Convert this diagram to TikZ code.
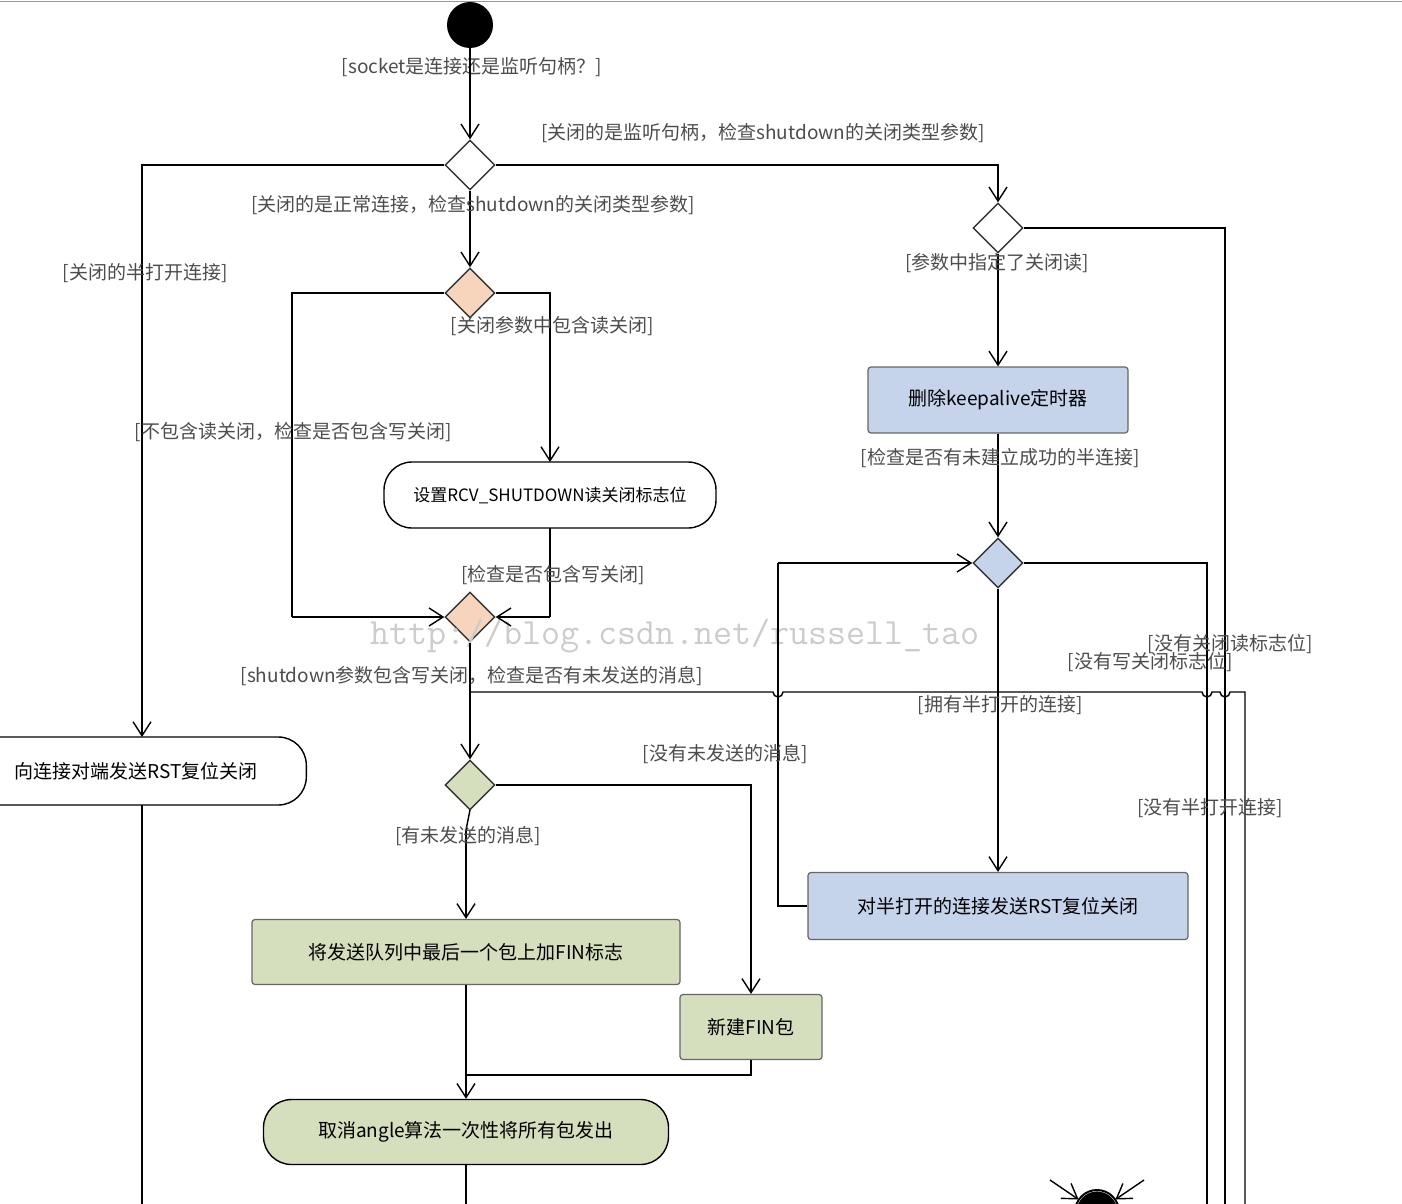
\documentclass[tikz,border=0pt]{standalone}
\usepackage{fontspec}
\setmainfont{Noto Sans CJK SC}
\usetikzlibrary{arrows.meta,shapes.geometric}
\definecolor{dor}{HTML}{F6D5BC}
\definecolor{dgr}{HTML}{D5DFBD}
\definecolor{dbl}{HTML}{C5D3EB}
\begin{document}
\begin{tikzpicture}[x=1pt,y=-1pt,
  every node/.style={font=\fontsize{19}{22}\selectfont},
  lab/.style={text=black!70,inner sep=1pt},
  dia/.style={diamond,draw=black!80,line width=1.4pt,minimum width=50,minimum height=50,inner sep=0},
  act/.style={draw=black!60,rounded corners=3,inner sep=0,line width=1.2pt},
  rnd/.style={draw=black,line width=1.4pt,rounded corners=28,inner sep=0,fill=white},
  ar/.style={-{Straight Barb[length=14pt,width=18pt]},line width=1.4pt},
  ln/.style={line width=1.4pt}]
\useasboundingbox (0,0) rectangle (1402,1204);
\draw[black!40] (0,1) -- (1402,1);
\node[circle,fill=black,minimum size=46,inner sep=0] (st) at (470,25) {};
\node[lab] (l0) at (472,67) {[socket是连接还是监听句柄？]};
\node[dia,fill=white] (d1) at (470,165) {};
\node[dia,fill=dor] (d2) at (470,293) {};
\node[dia,fill=dor] (d3) at (470,617) {};
\node[dia,fill=dgr] (d4) at (470,785) {};
\node[dia,fill=white] (dr) at (998,228) {};
\node[dia,fill=dbl] (d5) at (998,563) {};
\node[rnd,minimum width=332,minimum height=66] (rcv) at (550,495) {\fontsize{17}{20}\selectfont 设置RCV\_SHUTDOWN读关闭标志位};
\node[rnd,minimum width=340,minimum height=68,anchor=east] (rst1) at (307,771) {向连接对端发送RST复位关闭};
\node[act,fill=dgr,minimum width=428,minimum height=65] (fin1) at (466,952) {将发送队列中最后一个包上加FIN标志};
\node[act,fill=dgr,minimum width=142,minimum height=65] (fin2) at (751,1027) {新建FIN包};
\node[rnd,fill=dgr,minimum width=405,minimum height=65] (nag) at (466,1132) {取消angle算法一次性将所有包发出};
\node[act,fill=dbl,minimum width=260,minimum height=66] (ka) at (998,400) {删除keepalive定时器};
\node[act,fill=dbl,minimum width=380,minimum height=67] (rst2) at (998,906) {对半打开的连接发送RST复位关闭};
\node[circle,fill=black,draw=white,double=black,double distance=2pt,minimum size=44,inner sep=0] (en) at (1097,1212) {};
\node[text=black!20,font=\fontsize{37}{37}\selectfont\ttfamily] (wm) at (675,636) {http://blog.csdn.net/russell\_tao};
\coordinate (c4) at (466,830);
% connectors
\draw[ar] (st) -- (d1);
\draw[ar] (d1) -- (d2);
\draw[ar] (d1.west) -| (142,737);
\draw[ar] (d1.east) -| (dr.north);
\draw[ln] (d2.west) -| (292,617);
\draw[ar] (292,617) -- (d3.west);
\draw[ar] (d2.east) -| (550,462);
\draw[ln] (550,528) -- (550,617);
\draw[ar] (550,617) -- (d3.east);
\draw[ar] (d3) -- (d4);
\draw[ln] (470,692) -- (773,692) arc(180:0:5) -- (1202,692) arc(180:0:5) -- (1220,692) arc(180:0:5) -- (1245,692) -- (1245,1204);
\draw[ln] (d4.south) -- (470,810) -- (c4);
\draw[ar] (c4) -- (fin1);
\draw[ar] (d4.east) -| (fin2.north);
\draw[ar] (fin1) -- (nag);
\draw[ln] (fin2.south) |- (466,1075);
\draw[ln] (nag.south) -- (466,1204);
\draw[ln] (142,805) -- (142,1204);
\draw[ln] (dr.east) -| (1225,1204);
\draw[ar] (dr) -- (ka);
\draw[ar] (ka) -- (d5);
\draw[ar] (d5) -- (rst2);
\draw[ln] (d5.east) -| (1207,1204);
\draw[ln] (rst2.west) -| (778,563);
\draw[ar] (778,563) -- (d5.west);
\draw[ar] (1050,1180) -- (en);
\draw[ar] (1144,1180) -- (en);
% labels
\node[lab] at (763,133) {[关闭的是监听句柄，检查shutdown的关闭类型参数]};
\node[lab] at (473,205) {[关闭的是正常连接，检查shutdown的关闭类型参数]};
\node[lab] at (145,273) {[关闭的半打开连接]};
\node[lab] at (997,263) {[参数中指定了关闭读]};
\node[lab] at (552,326) {[关闭参数中包含读关闭]};
\node[lab] at (293,432) {[不包含读关闭，检查是否包含写关闭]};
\node[lab] at (1000,458) {[检查是否有未建立成功的半连接]};
\node[lab] at (553,575) {[检查是否包含写关闭]};
\node[lab] at (1230,644) {[没有关闭读标志位]};
\node[lab] at (1150,662) {[没有写关闭标志位]};
\node[lab] at (472,676) {[shutdown参数包含写关闭，检查是否有未发送的消息]};
\node[lab] at (1000,705) {[拥有半打开的连接]};
\node[lab] at (725,754) {[没有未发送的消息]};
\node[lab] at (1210,808) {[没有半打开连接]};
\node[lab] at (468,836) {[有未发送的消息]};
\end{tikzpicture}
\end{document}
